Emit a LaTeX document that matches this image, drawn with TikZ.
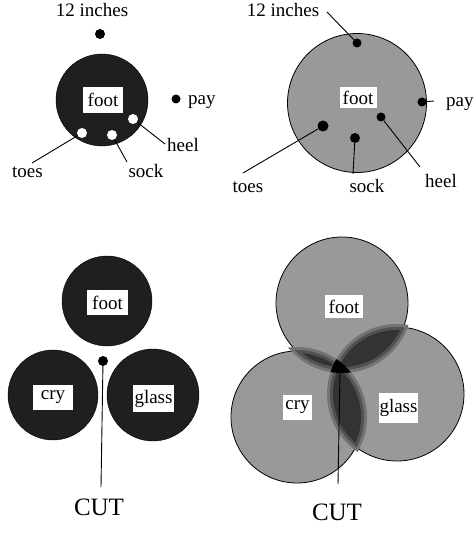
\documentclass[tikz,border=0pt]{standalone}
\usepackage{fontspec}
\setmainfont{Liberation Serif}
\begin{document}
\begin{tikzpicture}[x=1pt,y=-1pt,
  lbl/.style={font=\fontsize{19}{22}\selectfont, inner sep=0pt, anchor=base},
  cutlbl/.style={font=\fontsize{25}{28}\selectfont, inner sep=0pt, anchor=base},
  blackdisc/.style={circle, fill=black!88, draw=black, inner sep=0pt},
  greydisc/.style={circle, fill=black!40, inner sep=0pt},
  dotn/.style={circle, fill=black, inner sep=0pt, minimum size=9pt},
  hole/.style={circle, fill=white, inner sep=0pt, minimum size=10pt},
  wbox/.style={fill=white, inner sep=0pt, font=\fontsize{19}{22}\selectfont},
  lead/.style={line width=0.9pt},
  rim/.style={line width=0.8pt}
]
\useasboundingbox (0,0) rectangle (474,540);

% ---------- top left ----------
\node[lbl] (tl12) at (92,17) {12 inches};
\node[dotn, minimum size=10pt] (tldot) at (100,34) {};
\node[blackdisc, minimum size=92pt] (tlfoot) at (102,100) {};
\node[wbox, minimum width=40pt, minimum height=26pt] (tlfootbox) at (103,100) {foot};
\node[dotn] (tlpaydot) at (176,99) {};
\node[lbl, anchor=base west] (tlpay) at (188,105) {pay};
\node[hole] (tlheelh) at (133,119) {};
\node[hole] (tltoesh) at (82,133) {};
\node[hole] (tlsockh) at (112,135) {};
\coordinate (tlheelend) at (165,144);
\coordinate (tltoesend) at (32,163);
\coordinate (tlsockend) at (127,162);
\draw[lead] (tlheelh) -- (tlheelend);
\draw[lead] (tltoesh) -- (tltoesend);
\draw[lead] (tlsockh) -- (tlsockend);
\node[lbl] (tlheel) at (183,152) {heel};
\node[lbl] (tltoes) at (27.5,177) {toes};
\node[lbl] (tlsock) at (146,177) {sock};

% ---------- top right ----------
\node[greydisc, draw=black, rim, minimum size=139pt] (trfoot) at (357,103) {};
\node[lbl] (tr12) at (283,17) {12 inches};
\node[dotn] (tr12dot) at (357,43) {};
\coordinate (tr12start) at (327,12);
\draw[lead] (tr12start) -- (tr12dot);
\node[wbox, minimum width=37pt, minimum height=21pt] (trfootbox) at (358,98) {foot};
\node[dotn] (trpaydot) at (422,102) {};
\coordinate (trpayend) at (434,101);
\draw[lead] (trpaydot) -- (trpayend);
\node[lbl, anchor=base west] (trpay) at (446,107) {pay};
\node[dotn] (trheeldot) at (381,117) {};
\coordinate (trheelend) at (420,167);
\draw[lead] (trheeldot) -- (trheelend);
\node[lbl] (trheel) at (441,187) {heel};
\node[dotn, minimum size=11pt] (trtoesdot) at (323,126) {};
\coordinate (trtoesend) at (243,173);
\draw[lead] (trtoesdot) -- (trtoesend);
\node[lbl] (trtoes) at (248,193) {toes};
\node[dotn, minimum size=10pt] (trsockdot) at (355,138) {};
\coordinate (trsockend) at (353,174);
\draw[lead] (trsockdot) -- (trsockend);
\node[lbl] (trsock) at (367,192) {sock};

% ---------- bottom left ----------
\node[blackdisc, minimum size=90pt] (blfoot) at (107,301) {};
\node[blackdisc, minimum size=90pt] (blcry) at (53,395) {};
\node[blackdisc, minimum size=92pt] (blglass) at (153,395) {};
\node[wbox, minimum width=41pt, minimum height=25pt] (blfootbox) at (107.5,302.5) {foot};
\node[wbox, minimum width=40pt, minimum height=25pt] (blcrybox) at (53,397.5) {cry};
\node[wbox, minimum width=41pt, minimum height=27pt] (blglassbox) at (153.5,398.5) {glass};
\node[dotn, minimum size=10pt] (blcut) at (103,361) {};
\coordinate (blcutend) at (101,487);
\draw[lead] (blcut) -- (blcutend);
\node[cutlbl] (blCUT) at (99,515) {CUT};

% ---------- bottom right ----------
\node[greydisc, minimum size=132pt] (brfoot) at (342,303) {};
\node[greydisc, minimum size=132pt] (brcry) at (297,417) {};
\node[greydisc, minimum size=134pt] (brglass) at (397,394) {};
\draw[rim] (brfoot.center) circle[radius=66pt];
\draw[rim] (brcry.center) circle[radius=66pt];
\draw[rim] (brglass.center) circle[radius=67pt];
\foreach \r/\c in {70/55, 67/68, 64/80} {
  \begin{scope}
    \clip (brfoot.center) circle[radius=\r pt];
    \fill[black!\c] (brcry.center) circle[radius=\r pt];
    \fill[black!\c] (brglass.center) circle[radius=\r pt];
  \end{scope}
  \begin{scope}
    \clip (brcry.center) circle[radius=\r pt];
    \fill[black!\c] (brglass.center) circle[radius=\r pt];
  \end{scope}
}
\begin{scope}
  \clip (brfoot.center) circle[radius=70pt];
  \clip (brcry.center) circle[radius=70pt];
  \fill[black] (brglass.center) circle[radius=70pt];
\end{scope}
\node[wbox, minimum width=38pt, minimum height=23pt] (brfootbox) at (344,306.5) {foot};
\node[wbox, minimum width=29pt, minimum height=25pt] (brcrybox) at (297.5,407.5) {cry};
\node[wbox, minimum width=39pt, minimum height=30pt] (brglassbox) at (398.5,408) {glass};
\coordinate (brcutstart) at (340,372);
\coordinate (brcutend) at (338,484);
\draw[lead] (brcutstart) -- (brcutend);
\node[cutlbl] (brCUT) at (337,520) {CUT};
\end{tikzpicture}
\end{document}
